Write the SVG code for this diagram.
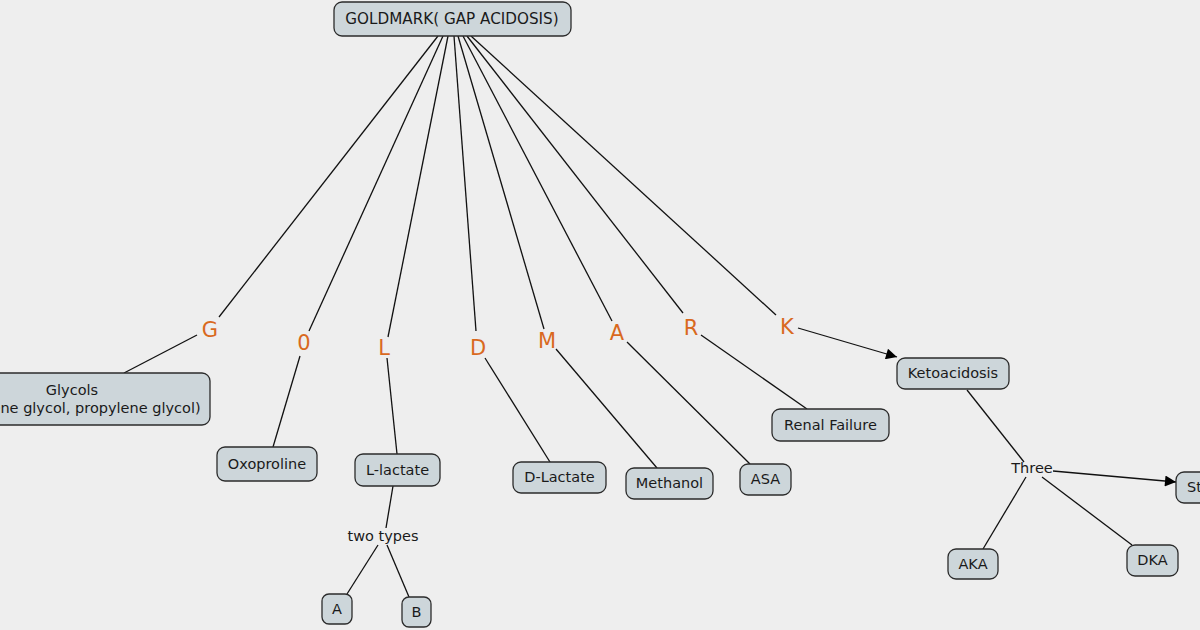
<svg xmlns="http://www.w3.org/2000/svg" width="1200" height="630" viewBox="0 0 1200 630">
<style>
.bg{fill:#eeeeee}
.box{fill:#cdd6da;stroke:#2b2b2b;stroke-width:1.3}
.t{font-family:"DejaVu Sans",Verdana,sans-serif;font-size:14.5px;fill:#1a1a1a;text-anchor:middle}
.lt{font-family:"DejaVu Sans",Verdana,sans-serif;font-size:21px;fill:#d9691e;text-anchor:middle}
.c{stroke:#111;stroke-width:1.3;fill:none}
</style>
<defs>
<marker id="arr" viewBox="0 0 10 10" refX="10" refY="5" markerWidth="15" markerHeight="11" markerUnits="userSpaceOnUse" orient="auto">
<path d="M0,0 L10,5 L0,10 Z" fill="#000"/>
</marker>
</defs>
<rect class="bg" x="0" y="0" width="1200" height="630"/>
<g id="connectors">
<line class="c" x1="438" y1="36" x2="219" y2="317"/>
<line class="c" x1="197" y1="335" x2="124" y2="373"/>
<line class="c" x1="443" y1="36" x2="309" y2="331"/>
<line class="c" x1="300" y1="356" x2="273" y2="447"/>
<line class="c" x1="448" y1="36" x2="388" y2="337"/>
<line class="c" x1="387" y1="358" x2="397" y2="454"/>
<line class="c" x1="393" y1="486" x2="386" y2="528"/>
<line class="c" x1="378" y1="545" x2="347" y2="594"/>
<line class="c" x1="387" y1="545" x2="409" y2="597"/>
<line class="c" x1="454" y1="36" x2="476" y2="331"/>
<line class="c" x1="485" y1="358" x2="550" y2="462"/>
<line class="c" x1="458" y1="36" x2="544" y2="329"/>
<line class="c" x1="556" y1="349" x2="657" y2="468"/>
<line class="c" x1="463" y1="36" x2="612" y2="321"/>
<line class="c" x1="627" y1="342" x2="750" y2="464"/>
<line class="c" x1="467" y1="36" x2="683" y2="313"/>
<line class="c" x1="701" y1="335" x2="807" y2="409"/>
<line class="c" x1="471" y1="36" x2="776" y2="315"/>
<line class="c" x1="798" y1="328" x2="897" y2="357" marker-end="url(#arr)"/>
<line class="c" x1="967" y1="390" x2="1024" y2="462"/>
<line class="c" x1="1053" y1="471" x2="1176" y2="482" marker-end="url(#arr)"/>
<line class="c" x1="1026" y1="477" x2="983" y2="549"/>
<line class="c" x1="1042" y1="477" x2="1132" y2="545"/>
</g>
<g id="node-title"><rect class="box" x="334" y="2" width="237" height="34" rx="8"/><text class="t" x="452" y="24" style="font-size:15.2px">GOLDMARK( GAP ACIDOSIS)</text></g>
<g id="label-G"><text class="lt" x="210" y="337">G</text></g>
<g id="label-O"><text class="lt" x="304" y="350">0</text></g>
<g id="label-L"><text class="lt" x="384" y="355">L</text></g>
<g id="label-D"><text class="lt" x="478" y="355">D</text></g>
<g id="label-M"><text class="lt" x="547" y="348">M</text></g>
<g id="label-A"><text class="lt" x="617" y="340">A</text></g>
<g id="label-R"><text class="lt" x="691" y="335">R</text></g>
<g id="label-K"><text class="lt" x="787" y="334">K</text></g>
<g id="node-glycols"><rect class="box" x="-20" y="373" width="230" height="52" rx="8"/><text class="t" x="72" y="395">Glycols</text><text class="t" x="75" y="413">(ethylene glycol, propylene glycol)</text></g>
<g id="node-oxoproline"><rect class="box" x="217" y="447" width="100" height="34" rx="8"/><text class="t" x="267" y="469">Oxoproline</text></g>
<g id="node-llactate"><rect class="box" x="355" y="454" width="85" height="32" rx="8"/><text class="t" x="397.5" y="475">L-lactate</text></g>
<g id="label-twotypes"><text class="t" x="383" y="541">two types</text></g>
<g id="node-a"><rect class="box" x="322" y="594" width="30" height="30" rx="7"/><text class="t" x="337" y="614">A</text></g>
<g id="node-b"><rect class="box" x="402" y="597" width="29" height="30" rx="7"/><text class="t" x="416.5" y="617">B</text></g>
<g id="node-dlactate"><rect class="box" x="513" y="462" width="93" height="31" rx="8"/><text class="t" x="559.5" y="482">D-Lactate</text></g>
<g id="node-methanol"><rect class="box" x="626" y="468" width="87" height="31" rx="8"/><text class="t" x="669.5" y="488">Methanol</text></g>
<g id="node-asa"><rect class="box" x="740" y="464" width="51" height="31" rx="8"/><text class="t" x="765.5" y="484">ASA</text></g>
<g id="node-renal"><rect class="box" x="772" y="409" width="117" height="32" rx="8"/><text class="t" x="830.5" y="430">Renal Failure</text></g>
<g id="node-keto"><rect class="box" x="897" y="358" width="112" height="31" rx="8"/><text class="t" x="953" y="378">Ketoacidosis</text></g>
<g id="label-three"><text class="t" x="1032" y="473">Three</text></g>
<g id="node-st"><rect class="box" x="1176" y="472" width="60" height="31" rx="8"/><text class="t" x="1187" y="492" style="text-anchor:start">Starvation</text></g>
<g id="node-aka"><rect class="box" x="948" y="549" width="50" height="30" rx="8"/><text class="t" x="973" y="569">AKA</text></g>
<g id="node-dka"><rect class="box" x="1127" y="545" width="51" height="31" rx="8"/><text class="t" x="1152.5" y="565">DKA</text></g>
</svg>
